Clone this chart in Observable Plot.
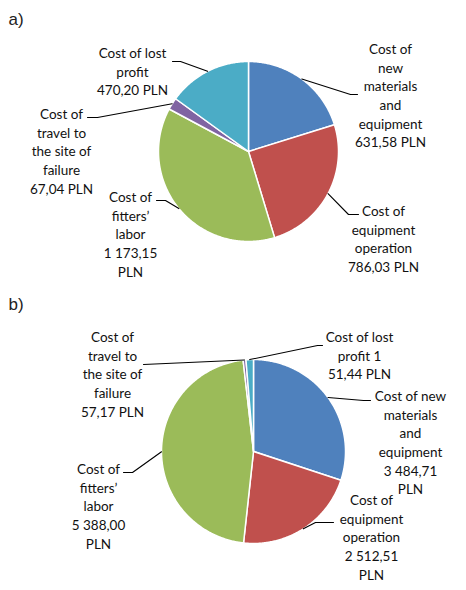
<!DOCTYPE html>
<html>
<head>
<meta charset="utf-8">
<script src="https://cdn.jsdelivr.net/npm/d3@7"></script>
<script src="https://cdn.jsdelivr.net/npm/@observablehq/plot@0.6"></script>
<style>
  body { margin: 0; background: #fff; }
</style>
</head>
<body>
<div id="chart"></div>
<script>
// data
const categories = ["new materials and equipment", "equipment operation", "fitters' labor", "travel to the site of failure", "lost profit"]
const colors = ["#4F81BD", "#C0504D", "#9BBB59", "#8064A2", "#4BACC6"]
const valuesA = [631.58, 786.03, 1173.15, 67.04, 470.20]
const valuesB = [3484.71, 2512.51, 5388.00, 57.17, 151.44]
const labelsA = [
  "Cost of\nnew\nmaterials\nand\nequipment\n631,58 PLN",
  "Cost of\nequipment\noperation\n786,03 PLN",
  "Cost of\nfitters’\nlabor\n1 173,15\nPLN",
  "Cost of\ntravel to\nthe site of\nfailure\n67,04 PLN",
  "Cost of lost\nprofit\n470,20 PLN"
]
const labelsB = [
  "Cost of new\nmaterials\nand\nequipment\n3 484,71\nPLN",
  "Cost of\nequipment\noperation\n2 512,51\nPLN",
  "Cost of\nfitters’\nlabor\n5 388,00\nPLN",
  "Cost of\ntravel to\nthe site of\nfailure\n57,17 PLN",
  "Cost of lost\nprofit 1\n51,44 PLN"
]

// layout (pixels): pie centre/radius, label anchors, leader elbows
const pies = [
  {tag: "a)", tagY: 24, cx: 248, cy: 151, r: 90, values: valuesA, labels: labelsA,
   labelPos: [[390, 44], [383, 206], [130, 192], [61, 109], [132, 48]],
   elbows: [[[350, 94], [357, 94]], [[348, 214], [358, 214]], [[165, 200], [156, 200]], [[97, 117], [87, 117]], [[180, 61], [172, 61]]]},
  {tag: "b)", tagY: 309, cx: 253, cy: 451, r: 92, values: valuesB, labels: labelsB,
   labelPos: [[410, 391], [371, 495], [98, 464], [112, 332], [359, 332]],
   elbows: [[[363, 400], [370, 400]], [[315, 522], [333, 522]], [[132, 472], [123, 472]], [[143, 364]], [[317, 345], [322, 345]]]}
]

const slices = []
const leaders = []
const texts = []
const rings = []
pies.forEach((p, pi) => {
  const arcs = d3.pie().sort(null)(p.values)  // clockwise from 12 o'clock
  const pt = (a, r) => [p.cx + r * Math.sin(a), p.cy - r * Math.cos(a)]
  rings.push({x: p.cx, y: p.cy})
  arcs.forEach((a, i) => {
    const id = pi + "-" + i
    const n = Math.max(2, Math.ceil((a.endAngle - a.startAngle) / 0.01))
    slices.push({id, x: p.cx, y: p.cy, color: colors[i]})
    for (let k = 0; k <= n; k++) {
      const [x, y] = pt(a.startAngle + (a.endAngle - a.startAngle) * k / n, p.r)
      slices.push({id, x, y, color: colors[i]})
    }
    slices.push({id, x: p.cx, y: p.cy, color: colors[i]})

    const [sx, sy] = pt((a.startAngle + a.endAngle) / 2, p.r)
    leaders.push({id, x: sx, y: sy})
    p.elbows[i].forEach(([x, y]) => leaders.push({id, x, y}))

    texts.push({x: p.labelPos[i][0], y: p.labelPos[i][1], text: p.labels[i], cat: categories[i]})
  })
})

const tags = pies.map(p => ({x: 8, y: p.tagY, text: p.tag}))

const chart = Plot.plot({
  width: 466,
  height: 590,
  margin: 0,
  x: {domain: [0, 466], range: [0, 466], axis: null},
  y: {domain: [0, 590], range: [0, 590], axis: null},
  style: {fontFamily: "Lato, 'Noto Sans', sans-serif", background: "#fff"},
  marks: [
    // soft shadow ring round each pie
    Plot.dot(rings, {x: "x", y: "y", r: d => d.y < 300 ? 93.5 : 95.5, fill: "#e8e8e8", stroke: null}),
    Plot.dot(rings, {x: "x", y: "y", r: d => d.y < 300 ? 92 : 94, fill: "#cfcfcf", stroke: null}),
    Plot.line(slices, {x: "x", y: "y", z: "id", fill: "color", stroke: "white", strokeWidth: 1.5, strokeLinejoin: "round"}),
    Plot.line(leaders, {x: "x", y: "y", z: "id", stroke: "#000", strokeWidth: 1.1}),
    Plot.text(texts, {x: "x", y: "y", text: "text", textAnchor: "middle", lineAnchor: "top", dy: -3.5,
      lineHeight: 1.38, fontSize: 13.5, fill: "#111"}),
    Plot.text(tags, {x: "x", y: "y", text: "text", textAnchor: "start", lineAnchor: "bottom",
      fontSize: 17, fill: "#222", fontFamily: "'Liberation Sans', Arial, sans-serif"})
  ]
})

d3.select("#chart").append(() => chart)
</script>
</body>
</html>
